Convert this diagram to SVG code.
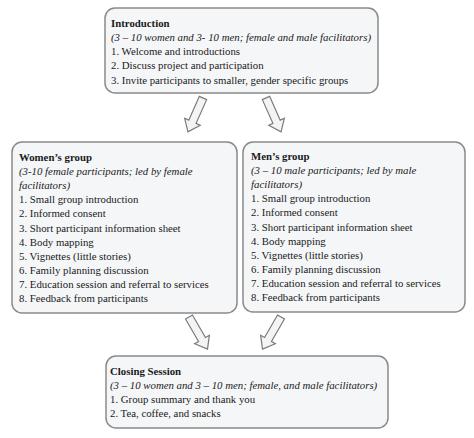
<svg xmlns="http://www.w3.org/2000/svg" width="474" height="438" viewBox="0 0 474 438">
<style>
.box{fill:#f5f6f8;stroke:#8a8a8a;stroke-width:1.5}
.arr{fill:#f3f4f6;stroke:#7a7a7a;stroke-width:1.2;stroke-linejoin:miter}
text{font-family:"Liberation Serif","Times New Roman",serif;font-size:10.8px;fill:#1a1a1a}
.b{font-weight:bold}
.i{font-style:italic}
</style>
<defs>
<polygon id="ar" points="-4,0 4,0 4,26 8.5,26 0,37 -8.5,26 -4,26"/>
</defs>
<rect width="474" height="438" fill="#ffffff"/>
<g id="connectors">
<use href="#ar" class="arr" transform="translate(203,98) rotate(24)"/>
<use href="#ar" class="arr" transform="translate(266,98) rotate(-24)"/>
<use href="#ar" class="arr" transform="translate(189,317) rotate(-30)"/>
<use href="#ar" class="arr" transform="translate(281,317) rotate(30)"/>
</g>
<g id="introduction">
<rect class="box" x="105" y="8" width="273" height="85" rx="10"/>
<text x="111" y="26.5" class="b">Introduction</text>
<text x="111" y="40.8" class="i">(3 – 10 women and 3- 10 men; female and male facilitators)</text>
<text x="111" y="55.1">1. Welcome and introductions</text>
<text x="111" y="69.4">2. Discuss project and participation</text>
<text x="111" y="83.7">3. Invite participants to smaller, gender specific groups</text>
</g>
<g id="womens-group">
<rect class="box" x="12" y="142" width="225" height="171" rx="10"/>
<text x="19" y="161" class="b">Women’s group</text>
<text x="19" y="175.1" class="i">(3-10 female participants; led by female</text>
<text x="19" y="189.2" class="i">facilitators)</text>
<text x="19" y="203.3">1. Small group introduction</text>
<text x="19" y="217.4">2. Informed consent</text>
<text x="19" y="231.5">3. Short participant information sheet</text>
<text x="19" y="245.6">4. Body mapping</text>
<text x="19" y="259.7">5. Vignettes (little stories)</text>
<text x="19" y="273.8">6. Family planning discussion</text>
<text x="19" y="287.9">7. Education session and referral to services</text>
<text x="19" y="302">8. Feedback from participants</text>
</g>
<g id="mens-group">
<rect class="box" x="243" y="142" width="222" height="170" rx="10"/>
<text x="251" y="160" class="b">Men’s group</text>
<text x="251" y="174.1" class="i">(3 – 10 male participants; led by male</text>
<text x="251" y="188.2" class="i">facilitators)</text>
<text x="251" y="202.3">1. Small group introduction</text>
<text x="251" y="216.4">2. Informed consent</text>
<text x="251" y="230.5">3. Short participant information sheet</text>
<text x="251" y="244.6">4. Body mapping</text>
<text x="251" y="258.7">5. Vignettes (little stories)</text>
<text x="251" y="272.8">6. Family planning discussion</text>
<text x="251" y="286.9">7. Education session and referral to services</text>
<text x="251" y="301">8. Feedback from participants</text>
</g>
<g id="closing-session">
<rect class="box" x="106" y="356" width="282" height="72" rx="10"/>
<text x="110" y="375" class="b">Closing Session</text>
<text x="110" y="389" class="i">(3 – 10 women and 3 – 10 men; female, and male facilitators)</text>
<text x="110" y="403">1. Group summary and thank you</text>
<text x="110" y="417">2. Tea, coffee, and snacks</text>
</g>
</svg>
